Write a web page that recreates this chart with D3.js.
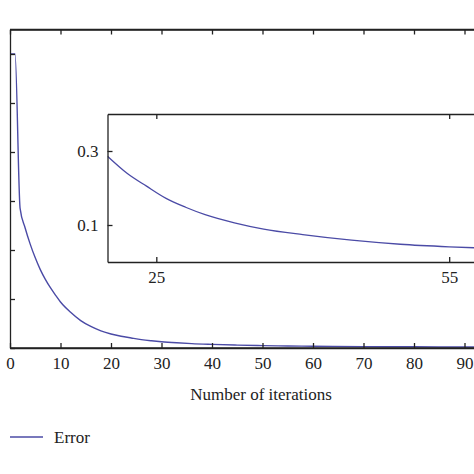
<!DOCTYPE html>
<html><head><meta charset="utf-8">
<script src="https://cdn.jsdelivr.net/npm/d3@7"></script>
<style>body{margin:0;background:#fff}svg{display:block}text{font-family:"Liberation Serif","DejaVu Serif",serif;fill:#222}</style>
</head><body><svg id="c" width="474" height="474"></svg>
<script>
const iterations=[0,1,2,3,4,5,6,7,8,9,10,12,14,16,18,20,22,24,26,28,30,33,36,40,45,50,55,60,70,80,90,100];
const errorVals=[6,6,2.85,2.45,2.12,1.84,1.6,1.4,1.23,1.08,0.94,0.73,0.56,0.44,0.35,0.286,0.24,0.205,0.172,0.148,0.128,0.106,0.089,0.074,0.059,0.048,0.041,0.036,0.029,0.024,0.02,0.017];
const mainXTicks=[0,10,20,30,40,50,60,70,80,90];
const mainYTicks=[0,1,2,3,4,5,6];
const insetXTicks=[25,55];
const insetYTicks=[0.1,0.3];
const data=iterations.map((d,i)=>({x:d,y:errorVals[i]}));
const svg=d3.select("#c");
const col="#4b4ba6";
const x=d3.scaleLinear().domain([0,100]).range([10,515]);
const y=d3.scaleLinear().domain([0,6.5]).range([348,29.5]);
const g=svg.append("g");
g.append("defs").append("clipPath").attr("id","mc").append("rect").attr("x",10).attr("y",29.5).attr("width",505).attr("height",318.5);
g.append("path").datum(data).attr("clip-path","url(#mc)").attr("fill","none").attr("stroke",col).attr("stroke-width",1.4)
 .attr("d",d3.line().x(d=>x(d.x)).y(d=>y(d.y)).curve(d3.curveMonotoneX));
const bx=g.append("g").attr("transform","translate(0,348)").call(d3.axisBottom(x).tickValues(mainXTicks).tickSizeInner(-5).tickSizeOuter(0).tickPadding(9).tickFormat(d3.format("d")));
const tx=g.append("g").attr("transform","translate(0,29.5)").call(d3.axisTop(x).tickValues(mainXTicks).tickSizeInner(-5).tickSizeOuter(0).tickFormat(""));
const ly=g.append("g").attr("transform","translate(10,0)").call(d3.axisLeft(y).tickValues(mainYTicks).tickSizeInner(-5).tickSizeOuter(0).tickFormat(""));
g.append("line").attr("x1",10).attr("x2",474).attr("y1",348).attr("y2",348).attr("stroke","#222").attr("stroke-width",1.3);
g.append("line").attr("x1",10).attr("x2",474).attr("y1",29.5).attr("y2",29.5).attr("stroke","#222").attr("stroke-width",1.3);
[bx,tx,ly].forEach(a=>{a.selectAll("path,line").attr("stroke","#222").attr("stroke-width",1.3);a.selectAll("text").style("font-size","17px").attr("font-family","Liberation Serif");});
// inset
const ix=d3.scaleLinear().domain([20,60]).range([107.5,498]);
const iy=d3.scaleLinear().domain([0,0.4]).range([262,114]);
const ins=svg.append("g");
ins.append("rect").attr("x",107.5).attr("y",114).attr("width",390).attr("height",148).attr("fill","#fff");
ins.append("defs").append("clipPath").attr("id","ic").append("rect").attr("x",107.5).attr("y",114).attr("width",390).attr("height",148);
ins.append("path").datum(data.filter(d=>d.x>=20&&d.x<=60)).attr("clip-path","url(#ic)").attr("fill","none").attr("stroke",col).attr("stroke-width",1.3)
 .attr("d",d3.line().x(d=>ix(d.x)).y(d=>iy(d.y)).curve(d3.curveMonotoneX));
const ibx=ins.append("g").attr("transform","translate(0,262)").call(d3.axisBottom(ix).tickValues(insetXTicks).tickSizeInner(-5).tickSizeOuter(0).tickPadding(9));
const itx=ins.append("g").attr("transform","translate(0,114)").call(d3.axisTop(ix).tickValues(insetXTicks).tickSizeInner(-5).tickSizeOuter(0).tickFormat(""));
const ily=ins.append("g").attr("transform","translate(107.5,0)").call(d3.axisLeft(iy).tickValues(insetYTicks).tickSizeInner(-5).tickSizeOuter(0).tickPadding(9).tickFormat(d3.format(".1f")));
[ibx,itx,ily].forEach(a=>{a.selectAll("path,line").attr("stroke","#222").attr("stroke-width",1.3);a.selectAll("text").style("font-size","17px").attr("font-family","Liberation Serif");});
svg.append("text").attr("x",261).attr("y",400).attr("text-anchor","middle").style("font-size","17px").text("Number of iterations");
svg.append("line").attr("x1",10).attr("x2",43).attr("y1",437).attr("y2",437).attr("stroke",col).attr("stroke-width",1.4);
svg.append("text").attr("x",54).attr("y",443).style("font-size","17px").text("Error");
</script></body></html>
